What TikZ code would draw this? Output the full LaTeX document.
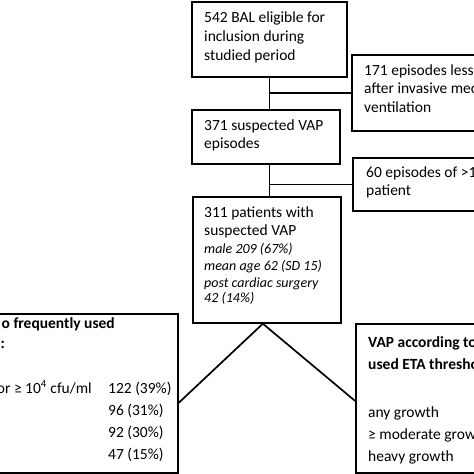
\documentclass[tikz,border=0pt]{standalone}
\usepackage{fontspec}
\setmainfont{Carlito}
\begin{document}
\begin{tikzpicture}[x=1pt,y=-1pt,
  box/.style={draw,line width=1.7pt,inner sep=0pt,anchor=north west},
  txt/.style={anchor=base west,inner sep=0pt,font=\fontsize{15.5}{18}\selectfont},
  itx/.style={txt,font=\fontsize{14}{17}\selectfont\itshape},
  bld/.style={txt,font=\fontsize{15.5}{18}\selectfont\bfseries},
  link/.style={line width=1.7pt}]
\useasboundingbox (0,0) rectangle (474,474);
\clip (0,0) rectangle (474,474);
% boxes
\node[box,minimum width=155pt,minimum height=75pt] (b1) at (191,1) {};
\node[box,minimum width=140pt,minimum height=76pt] (b171) at (351,54) {};
\node[box,minimum width=148pt,minimum height=54pt] (b371) at (191,109) {};
\node[box,minimum width=140pt,minimum height=53pt] (b60) at (352,157) {};
\node[box,minimum width=148pt,minimum height=126pt] (b311) at (192,196) {};
\node[box,minimum width=197pt,minimum height=159pt] (bL) at (-20,313) {};
\node[box,minimum width=140pt,minimum height=149pt] (bR) at (355,323) {};
% connectors
\draw[link] (b1.south) -- (b1.south |- b371.north);
\draw[link] (b1.south |- b371.south) -- (b1.south |- b311.north);
\draw[link] (b1.south |- b171.west) -- (b171.west);
\draw[link] (b1.south |- b60.west) -- (b60.west);
\draw[link] ([xshift=-4pt]b311.south) -- ([yshift=-9.5pt]bL.east);
\draw[link] ([xshift=-4pt]b311.south) -- ([yshift=-2.5pt]bR.west);
% texts
\node[txt] (t1a) at (204,22) {542 BAL eligible for};
\node[txt] (t1b) at (204,41) {inclusion during};
\node[txt] (t1c) at (204,60) {studied period};
\node[txt] (t2a) at (364,75) {171 episodes less};
\node[txt] (t2b) at (364,93.5) {after invasive mechanical};
\node[txt] (t2c) at (364,112) {ventilation};
\node[txt] (t3a) at (204,130) {371 suspected VAP};
\node[txt] (t3b) at (204,148) {episodes};
\node[txt] (t4a) at (366,177) {60 episodes of >1};
\node[txt] (t4b) at (366,195) {patient};
\node[txt] (t5a) at (204,217) {311 patients with};
\node[txt] (t5b) at (204,235) {suspected VAP};
\node[itx] (t5c) at (204,253) {male 209 (67\%)};
\node[itx] (t5d) at (204,270.5) {mean age 62 (SD 15)};
\node[itx] (t5e) at (204,287.5) {post cardiac surgery};
\node[itx] (t5f) at (204,302.5) {42 (14\%)};
\node[bld,anchor=base east] (tLa) at (115,328) {o frequently used};
\node[bld] (tLb) at (0.5,348) {:};
\node[txt,anchor=base east] (tLc) at (92,393) {or ≥ 10\textsuperscript{4} cfu/ml};
\node[txt] (tLd) at (108,393) {122 (39\%)};
\node[txt] (tLe) at (108,415.5) {96 (31\%)};
\node[txt] (tLf) at (108,437.5) {92 (30\%)};
\node[txt] (tLg) at (108,459.5) {47 (15\%)};
\node[bld] (tRa) at (368,347) {VAP according to};
\node[bld] (tRb) at (368,369) {used ETA thresholds};
\node[txt] (tRc) at (368,417) {any growth};
\node[txt] (tRd) at (368,439.5) {≥ moderate growth};
\node[txt] (tRe) at (368,461) {heavy growth};
\end{tikzpicture}
\end{document}
